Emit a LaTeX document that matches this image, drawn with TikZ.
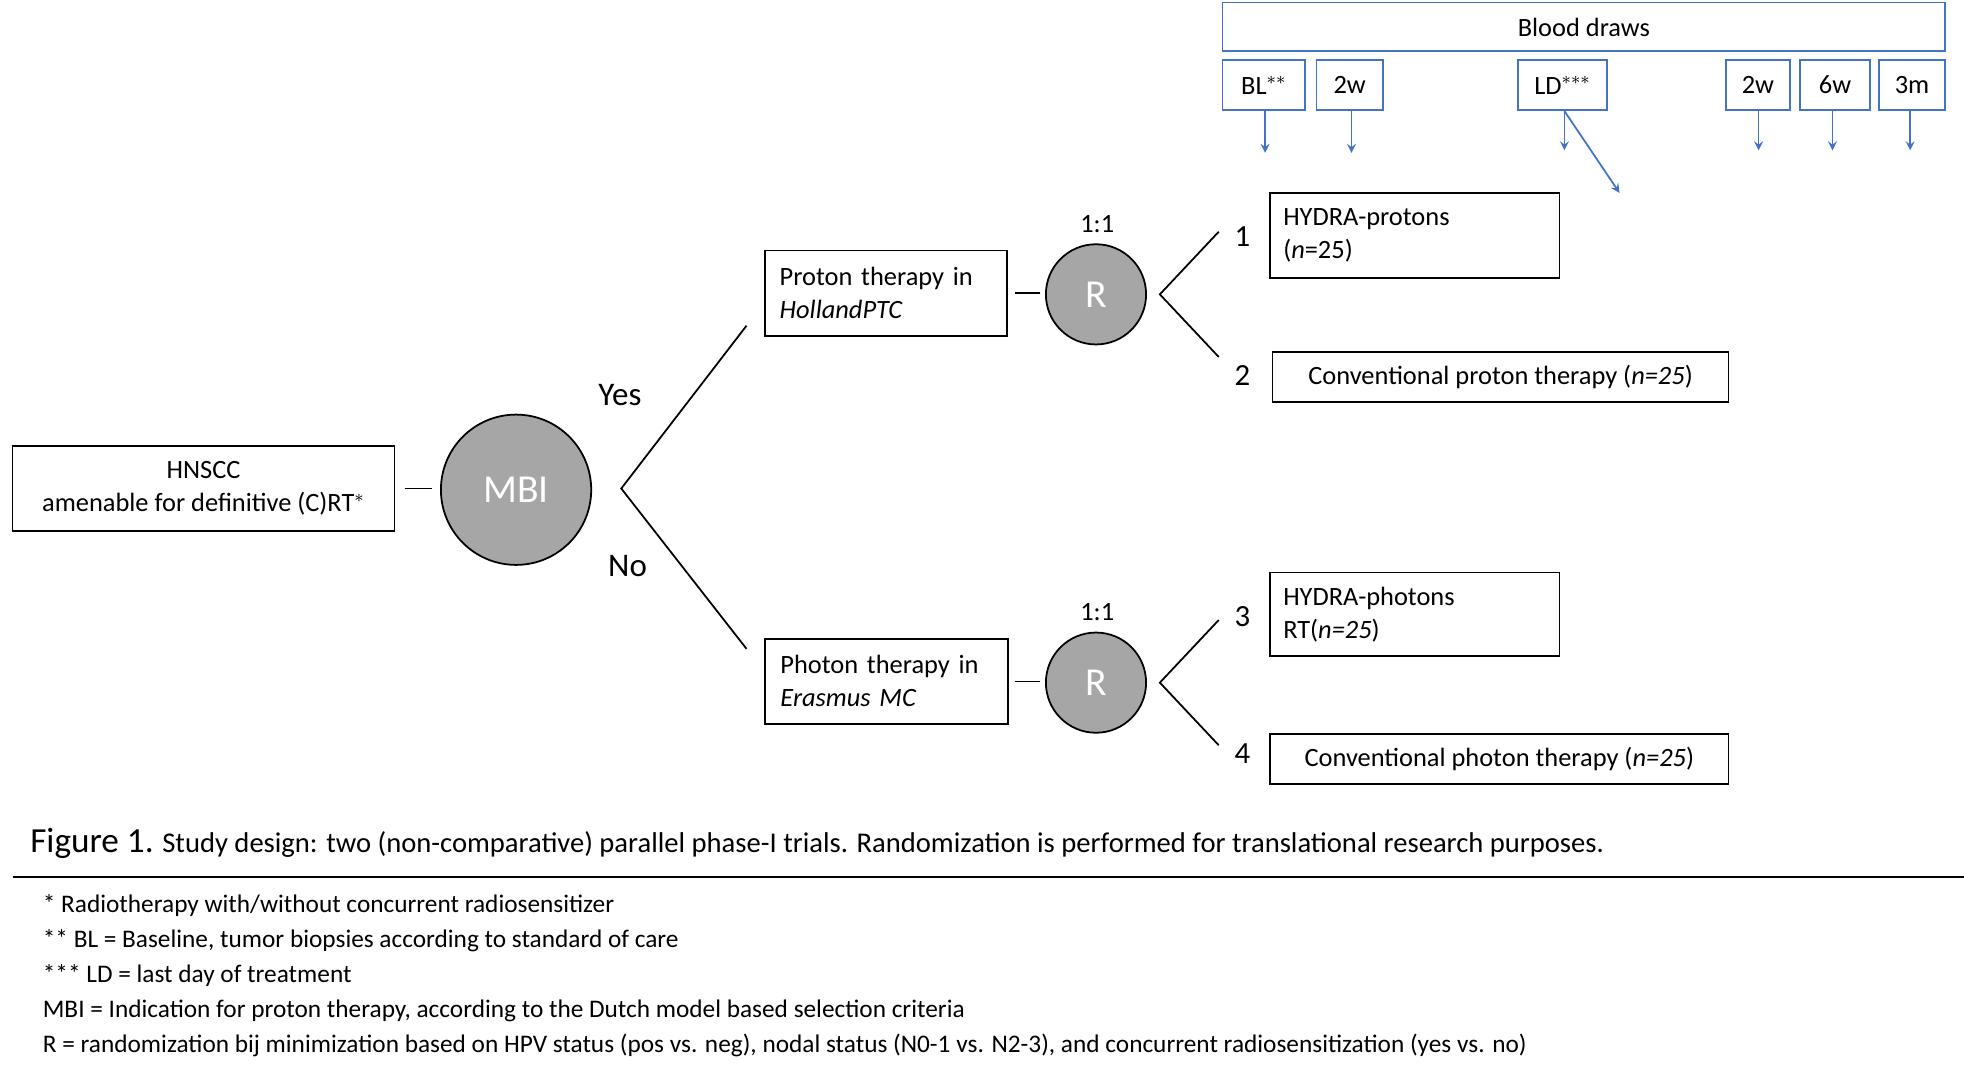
\documentclass[tikz,border=0pt]{standalone}
\usepackage{fontspec}
\setmainfont{Carlito}
\usetikzlibrary{positioning}
\definecolor{drawblue}{RGB}{68,114,196}
\definecolor{circgray}{RGB}{166,166,166}
\tikzset{
  box/.style={draw,thick,rectangle,inner sep=0pt,font=\fontsize{12}{15}\selectfont},
  bbox/.style={draw=drawblue,thick,rectangle,inner sep=0pt,font=\fontsize{12}{14}\selectfont},
  rnd/.style={draw,thick,circle,fill=circgray,text=white,inner sep=0pt},
  arm/.style={thick},
  barrow/.style={->,drawblue,thick,>=stealth},
  note/.style={anchor=west,font=\fontsize{11.5}{14}\selectfont}
}
\begin{document}
\begin{tikzpicture}[x=0.02cm,y=-0.02cm]
\useasboundingbox (0,0) rectangle (1568,862);
% blood draws
\node[bbox,minimum width=577*0.02cm,minimum height=39*0.02cm] (blood) at (1264.5,21.5) {Blood draws};
\node[bbox,minimum width=66*0.02cm,minimum height=40*0.02cm] (bl) at (1009,68) {BL$^{**}$};
\node[bbox,minimum width=53*0.02cm,minimum height=40*0.02cm] (w2a) at (1077.5,68) {2w};
\node[bbox,minimum width=71*0.02cm,minimum height=40*0.02cm] (ld) at (1247.5,68) {LD$^{***}$};
\node[bbox,minimum width=51*0.02cm,minimum height=40*0.02cm] (w2b) at (1403.5,68) {2w};
\node[bbox,minimum width=56*0.02cm,minimum height=40*0.02cm] (w6) at (1465,68) {6w};
\node[bbox,minimum width=53*0.02cm,minimum height=40*0.02cm] (m3) at (1526.5,68) {3m};
\coordinate (blend) at (1010,122);
\coordinate (w2aend) at (1079,122);
\coordinate (ldend) at (1249,120);
\coordinate (ldend2) at (1293,154);
\coordinate (w2bend) at (1404,120);
\coordinate (w6end) at (1463,120);
\coordinate (m3end) at (1525,120);
\draw[barrow] (bl.south -| blend) -- (blend);
\draw[barrow] (w2a.south -| w2aend) -- (w2aend);
\draw[barrow] (ld.south -| ldend) -- (ldend);
\draw[barrow] (ld.south -| ldend) -- (ldend2);
\draw[barrow] (w2b.south -| w2bend) -- (w2bend);
\draw[barrow] (w6.south -| w6end) -- (w6end);
\draw[barrow] (m3.south -| m3end) -- (m3end);
% main flow
\node[box,minimum width=305*0.02cm,minimum height=68*0.02cm,align=center] (hnscc) at (162.5,390) {HNSCC\\amenable for definitive (C)RT$^{*}$};
\node[rnd,minimum size=120*0.02cm,font=\fontsize{18}{20}\selectfont] (mbi) at (412,391) {MBI};
\draw[arm] (323,390) -- (345,390);
\coordinate (fork) at (496,390);
\coordinate (yes) at (596,260);
\coordinate (no) at (596,518);
\draw[arm] (yes) -- (fork) -- (no);
\node[font=\fontsize{15}{18}\selectfont] (yeslab) at (495,315) {Yes};
\node[font=\fontsize{15}{18}\selectfont] (nolab) at (501,452) {No};
% proton arm
\node[box,minimum width=193*0.02cm,minimum height=68*0.02cm,align=left,text width=170*0.02cm] (proton) at (707.5,234) {Proton therapy in\\\textit{HollandPTC}};
\draw[arm] (810,234) -- (830,234);
\node[rnd,minimum size=80*0.02cm,font=\fontsize{18}{20}\selectfont] (r1) at (875,235) {R};
\node[font=\fontsize{12}{14}\selectfont] (ratio1) at (876,179) {1:1};
\coordinate (f1) at (926,235);
\coordinate (a1) at (973,185);
\coordinate (a2) at (973,285);
\draw[arm] (a1) -- (f1) -- (a2);
\node[font=\fontsize{14}{16}\selectfont] (n1) at (992,189) {1};
\node[font=\fontsize{14}{16}\selectfont] (n2) at (992,300) {2};
\node[box,minimum width=231*0.02cm,minimum height=68*0.02cm,align=left,text width=210*0.02cm] (hydrap) at (1129.5,188) {HYDRA-protons\\(\textit{n}=25)};
\node[box,minimum width=364*0.02cm,minimum height=40*0.02cm] (convp) at (1198,301) {Conventional proton therapy (\textit{n=25})};
% photon arm
\node[box,minimum width=194*0.02cm,minimum height=68*0.02cm,align=left,text width=170*0.02cm] (photon) at (708,544) {Photon therapy in\\\textit{Erasmus MC}};
\draw[arm] (810,544) -- (830,544);
\node[rnd,minimum size=80*0.02cm,font=\fontsize{18}{20}\selectfont] (r2) at (875,545) {R};
\node[font=\fontsize{12}{14}\selectfont] (ratio2) at (876,489) {1:1};
\coordinate (f2) at (926,545);
\coordinate (a3) at (973,495);
\coordinate (a4) at (973,595);
\draw[arm] (a3) -- (f2) -- (a4);
\node[font=\fontsize{14}{16}\selectfont] (n3) at (992,492) {3};
\node[font=\fontsize{14}{16}\selectfont] (n4) at (992,602) {4};
\node[box,minimum width=231*0.02cm,minimum height=67*0.02cm,align=left,text width=210*0.02cm] (hydraph) at (1129.5,490.5) {HYDRA-photons\\RT(\textit{n=25})};
\node[box,minimum width=366*0.02cm,minimum height=40*0.02cm] (convph) at (1197,606) {Conventional photon therapy (\textit{n=25})};
% caption and notes
\node[anchor=west,font=\fontsize{13}{16}\selectfont] (caption) at (18,673) {{\fontsize{16}{18}\selectfont Figure 1.} Study design: two (non-comparative) parallel phase-I trials. Randomization is performed for translational research purposes.};
\draw[thick] (10,700) -- (1568,700);
\node[note] (fn1) at (28,723) {* Radiotherapy with/without concurrent radiosensitizer};
\node[note] (fn2) at (28,751) {** BL = Baseline, tumor biopsies according to standard of care};
\node[note] (fn3) at (28,779) {*** LD = last day of treatment};
\node[note] (fn4) at (28,807) {MBI = Indication for proton therapy, according to the Dutch model based selection criteria};
\node[note] (fn5) at (28,835) {R = randomization bij minimization based on HPV status (pos vs. neg), nodal status (N0-1 vs. N2-3), and concurrent radiosensitization (yes vs. no)};
\end{tikzpicture}
\end{document}
